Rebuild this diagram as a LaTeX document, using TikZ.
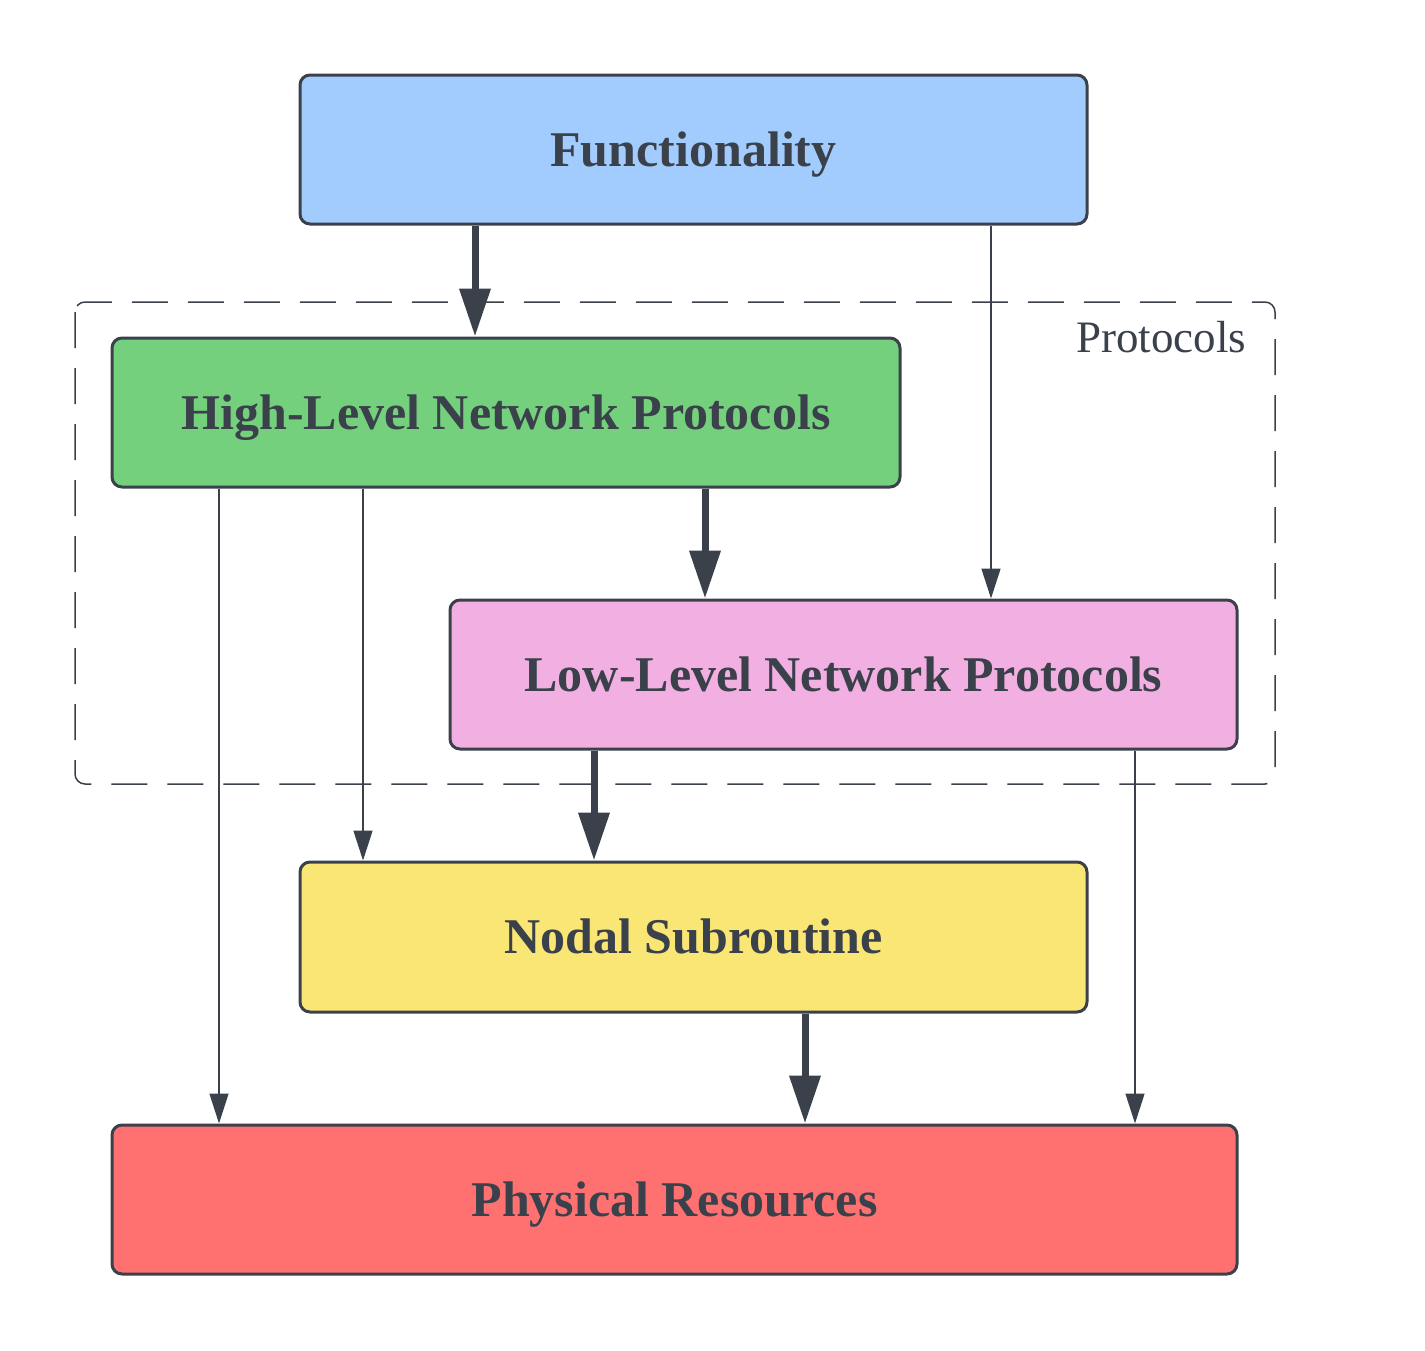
\documentclass[tikz,border=0pt]{standalone}
\usepackage{fontspec}
\setmainfont{Liberation Serif}
\usetikzlibrary{arrows.meta}
\definecolor{ink}{HTML}{3B414B}
\definecolor{cblue}{HTML}{A2CCFE}
\definecolor{cgreen}{HTML}{74D07C}
\definecolor{cpink}{HTML}{F2B0E2}
\definecolor{cyellow}{HTML}{FAE675}
\definecolor{cred}{HTML}{FF7171}
\tikzset{
  box/.style={draw=ink, line width=3pt, rounded corners=10pt, inner sep=0pt,
    minimum height=149pt, text=ink, text height=40pt, text depth=7pt,
    font=\fontsize{50}{60}\selectfont\bfseries},
  bigarrow/.style={draw=ink, line width=7pt, -{Triangle[length=48pt,width=30pt]}},
  smallarrow/.style={draw=ink, line width=1.5pt, -{Triangle[length=30pt,width=19pt]}},
  clusterbox/.style={draw=ink, line width=1.5pt, dash pattern=on 36pt off 20pt, rounded corners=10pt},
}
\begin{document}
\begin{tikzpicture}[x=1pt,y=-1pt]
\useasboundingbox (0,0) rectangle (1425,1350);
\draw[clusterbox] (75,302) rectangle (1275,784);
\node[anchor=east, text=ink, font=\fontsize{45}{54}\selectfont] (protlabel) at (1250,337) {Protocols};
\node[box, fill=cblue, minimum width=787pt] (func) at (693.5,149.5) {Functionality};
\node[box, fill=cgreen, minimum width=788pt] (high) at (506,412.5) {High-Level Network Protocols};
\node[box, fill=cpink, minimum width=787pt] (low) at (843.5,674.5) {Low-Level Network Protocols};
\node[box, fill=cyellow, minimum width=787pt, minimum height=150pt] (nodal) at (693.5,937) {Nodal Subroutine};
\node[box, fill=cred, minimum width=1125pt] (phys) at (674.5,1199.5) {Physical Resources};
\coordinate (xa) at (475,0);
\coordinate (xb) at (991,0);
\coordinate (xc) at (219,0);
\coordinate (xd) at (363,0);
\coordinate (xe) at (705,0);
\coordinate (xf) at (594,0);
\coordinate (xg) at (1135,0);
\coordinate (xh) at (805,0);
\draw[bigarrow] (func.south -| xa) -- (high.north -| xa);
\draw[smallarrow] (func.south -| xb) -- (low.north -| xb);
\draw[smallarrow] (high.south -| xc) -- (phys.north -| xc);
\draw[smallarrow] (high.south -| xd) -- (nodal.north -| xd);
\draw[bigarrow] (high.south -| xe) -- (low.north -| xe);
\draw[bigarrow] (low.south -| xf) -- (nodal.north -| xf);
\draw[smallarrow] (low.south -| xg) -- (phys.north -| xg);
\draw[bigarrow] (nodal.south -| xh) -- (phys.north -| xh);
\end{tikzpicture}
\end{document}
